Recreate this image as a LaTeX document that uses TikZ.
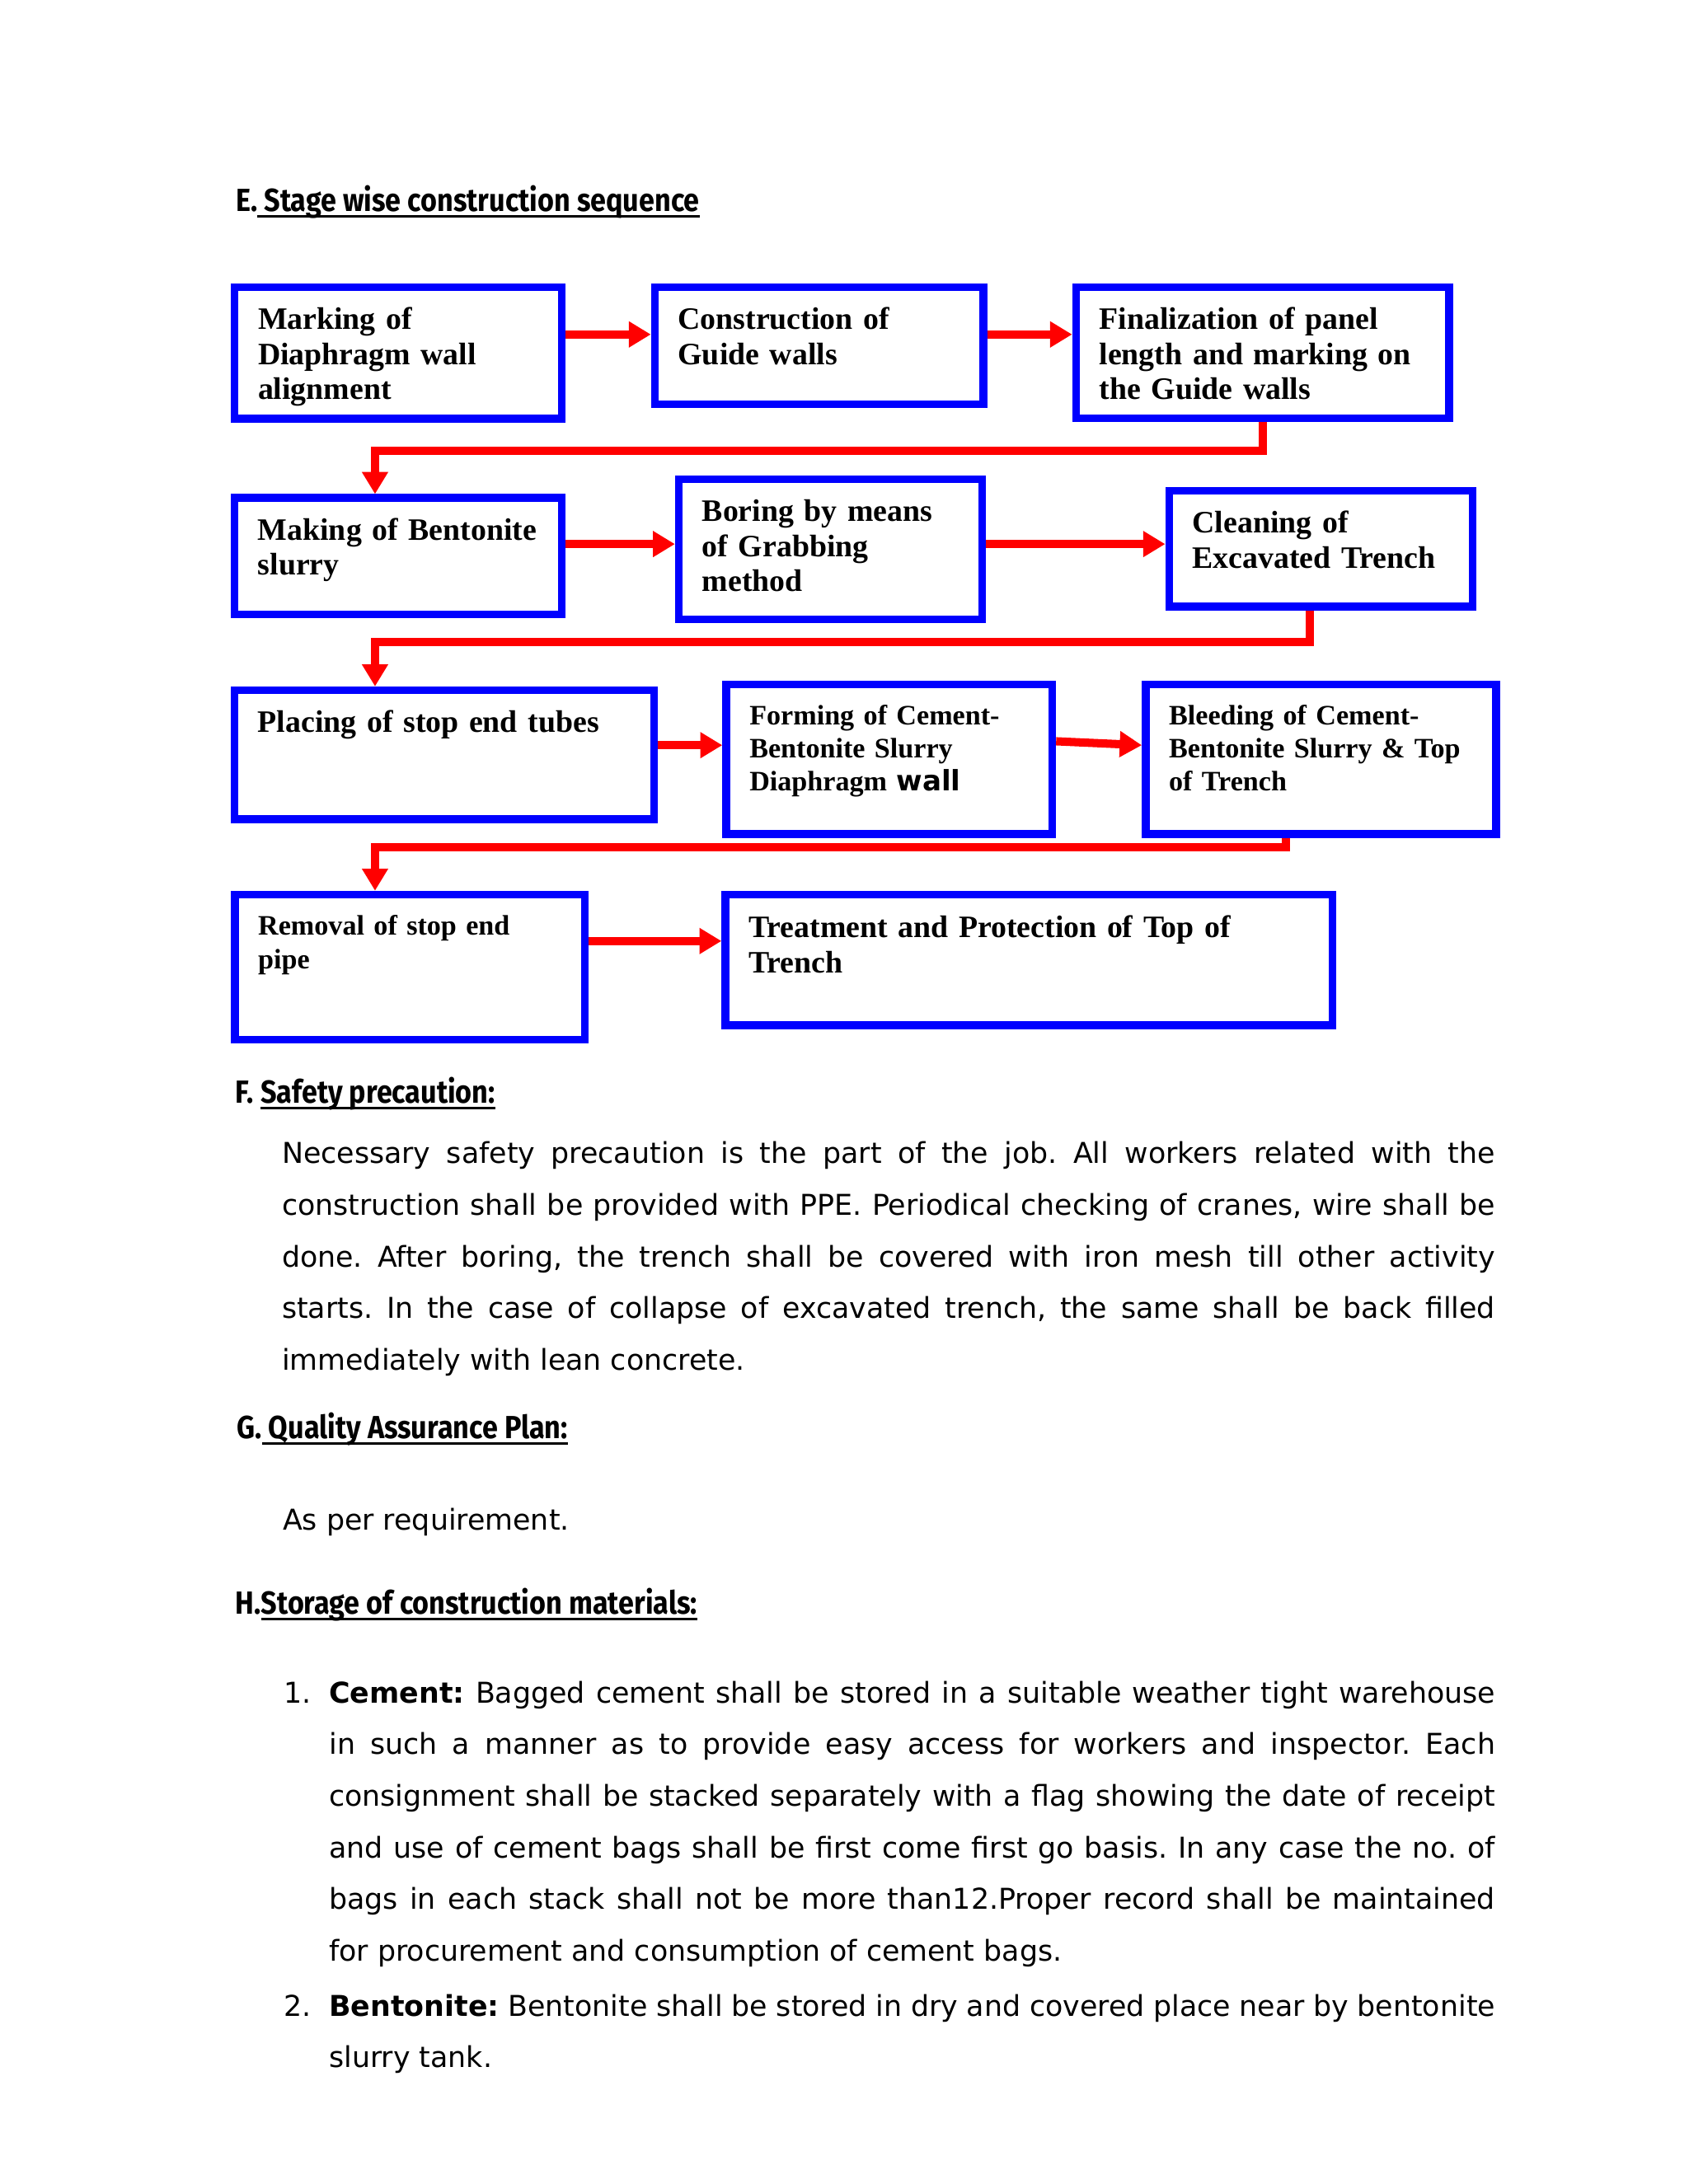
\documentclass[tikz,border=0pt]{standalone}
\usepackage{fontspec}
\usetikzlibrary{arrows.meta}

\newfontfamily\boxfont{Liberation Serif}
\newfontfamily\bodyfont{DejaVu Sans}
\newfontfamily\headfont[FakeStretch=0.88]{Fira Sans}

\definecolor{boxblue}{RGB}{0,0,255}
\definecolor{flowred}{RGB}{255,0,0}

% heading underline
\newlength{\rulewidth}
\newcommand{\underrule}[1]{\settowidth{\rulewidth}{#1}\rlap{\rule[-2.2pt]{\rulewidth}{0.8pt}}#1}
\frenchspacing

\begin{document}
\begin{tikzpicture}[x=0.505pt, y=-0.505pt]
        \tikzstyle{stage_box}   = [draw=boxblue, line width=2.8pt, anchor=north west, align=left, inner xsep=8.45pt, inner ysep=0pt, text height=15.3pt, font=\boxfont\bfseries\fontsize{11.3}{12.7}\selectfont]
        \tikzstyle{stage_small} = [stage_box, text height=14.5pt, font=\boxfont\bfseries\fontsize{10.2}{12}\selectfont]
        \tikzstyle{flow_arrow}  = [draw=flowred, line width=3pt, -{Triangle[length=8pt,width=9pt,fill=flowred]}]
        \tikzstyle{head_text}   = [anchor=base west, inner sep=0pt, font=\headfont\bfseries\fontsize{11.6}{14}\selectfont]
        \tikzstyle{item_num}    = [anchor=base west, inner sep=0pt, font=\bodyfont\fontsize{10.4}{18.7}\selectfont]
        \tikzstyle{body_text}   = [item_num, align=justify]

        \useasboundingbox (0,0) rectangle (1212,1568);

        \node[head_text] at (169.0, 151.9) (hE) {E.\underrule{\ Stage wise construction sequence}};

        \node[stage_box, text width=101.7pt, text depth=32.3pt] at (165.7, 203.6) (b1) {Marking of\\Diaphragm wall\\alignment};
        \node[stage_box, text width=102.2pt, text depth=27.0pt] at (467.2, 203.6) (b2) {Construction of\\Guide walls};
        \node[stage_box, text width=118.4pt, text depth=32.2pt] at (769.6, 203.6) (b3) {Finalization of panel\\length and marking on\\the Guide walls};

        \node[stage_box, text width=101.8pt, text depth=26.9pt] at (165.6, 354.7) (b4) {Making of Bentonite\\slurry};
        \node[stage_box, text width=93.1pt,  text depth=35.5pt] at (484.5, 341.3) (b5) {Boring by means\\of Grabbing\\method};
        \node[stage_box, text width=93.1pt,  text depth=26.7pt] at (836.4, 349.6) (b6) {Cleaning of\\Excavated Trench};

        \node[stage_box,   text width=135.2pt, text depth=31.4pt] at (165.6, 492.8) (b7) {Placing of stop end tubes};
        \node[stage_small, text width=101.3pt, text depth=39.7pt] at (518.5, 488.8) (b8) {Forming of Cement-\\Bentonite Slurry\\Diaphragm {\bodyfont wall}};
        \node[stage_small, text width=110.1pt, text depth=39.7pt] at (819.6, 488.8) (b9) {Bleeding of Cement-\\Bentonite Slurry \& Top\\of Trench};

        \node[stage_small, text width=109.9pt, text height=14.6pt, text depth=38.0pt, font=\boxfont\bfseries\fontsize{10.2}{12.3}\selectfont] at (165.8, 639.5) (b10) {Removal of stop end\\pipe};
        \node[stage_box,   text width=203.2pt, text height=15.4pt, text depth=32.0pt, font=\boxfont\bfseries\fontsize{11.3}{13.1}\selectfont] at (517.9, 639.5) (b11) {Treatment and Protection of Top of\\Trench};

        \coordinate (row1)  at (0, 240.1);
        \coordinate (row2)  at (0, 390.6);
        \coordinate (row3a) at (0, 532.2);
        \coordinate (row3)  at (0, 535.0);
        \coordinate (row4)  at (0, 675.6);
        \coordinate (turn1) at (269.2, 323.5);
        \coordinate (turn2) at (269.2, 461.2);
        \coordinate (turn3) at (269.2, 608.0);

        \draw[flow_arrow] (b1.east |- row1)  -- (b2.west |- row1);
        \draw[flow_arrow] (b2.east |- row1)  -- (b3.west |- row1);
        \draw[flow_arrow] (b4.east |- row2)  -- (b5.west |- row2);
        \draw[flow_arrow] (b5.east |- row2)  -- (b6.west |- row2);
        \draw[flow_arrow] (b7.east |- row3)  -- (b8.west |- row3);
        \draw[flow_arrow] (b8.east |- row3a) -- (b9.west |- row3);
        \draw[flow_arrow] (b10.east |- row4) -- (b11.west |- row4);

        \draw[flow_arrow] (b3.south) |- (turn1) -- (turn1 |- b4.north);
        \draw[flow_arrow] ([xshift=-4pt]b6.south) |- (turn2) -- (turn2 |- b7.north);
        \draw[flow_arrow] ([xshift=-12.8pt]b9.south) |- (turn3) -- (turn3 |- b10.north);

        \node[head_text] at (168.8, 792.0) (hF) {F. \underrule{Safety precaution:}};
        \node[body_text, text width=439.8pt] at (202.0, 835.4) (safety) {Necessary safety precaution is the part of the job. All workers related with the\linebreak construction shall be provided with PPE. Periodical checking of cranes, wire shall be\linebreak done. After boring, the trench shall be covered with iron mesh till other activity\linebreak starts. In the case of collapse of excavated trench, the same shall be back filled\linebreak immediately with lean concrete.};

        \node[head_text] at (169.8, 1032.7) (hG) {G.\underrule{\ Quality Assurance Plan:}};
        \node[item_num] at (202.6, 1098.4) (qap) {As per requirement.};

        \node[head_text] at (168.8, 1158.7) (hH) {H.\underrule{Storage of construction materials:}};
        \node[item_num] at (203.3, 1222.6) (num1) {1.};
        \node[body_text, text width=422.7pt] at (235.9, 1222.6) (cement) {\textbf{Cement:} Bagged cement shall be stored in a suitable weather tight warehouse\linebreak in such a manner as to provide easy access for workers and inspector. Each\linebreak consignment shall be stacked separately with a flag showing the date of receipt\linebreak and use of cement bags shall be first come first go basis. In any case the no. of\linebreak bags in each stack shall not be more than12.Proper record shall be maintained\linebreak for procurement and consumption of cement bags.};
        \node[item_num] at (203.3, 1447.3) (num2) {2.};
        \node[body_text, text width=422.7pt] at (235.9, 1447.3) (bentonite) {\textbf{Bentonite:} Bentonite shall be stored in dry and covered place near by bentonite\linebreak slurry tank.};
\end{tikzpicture}
\end{document}
